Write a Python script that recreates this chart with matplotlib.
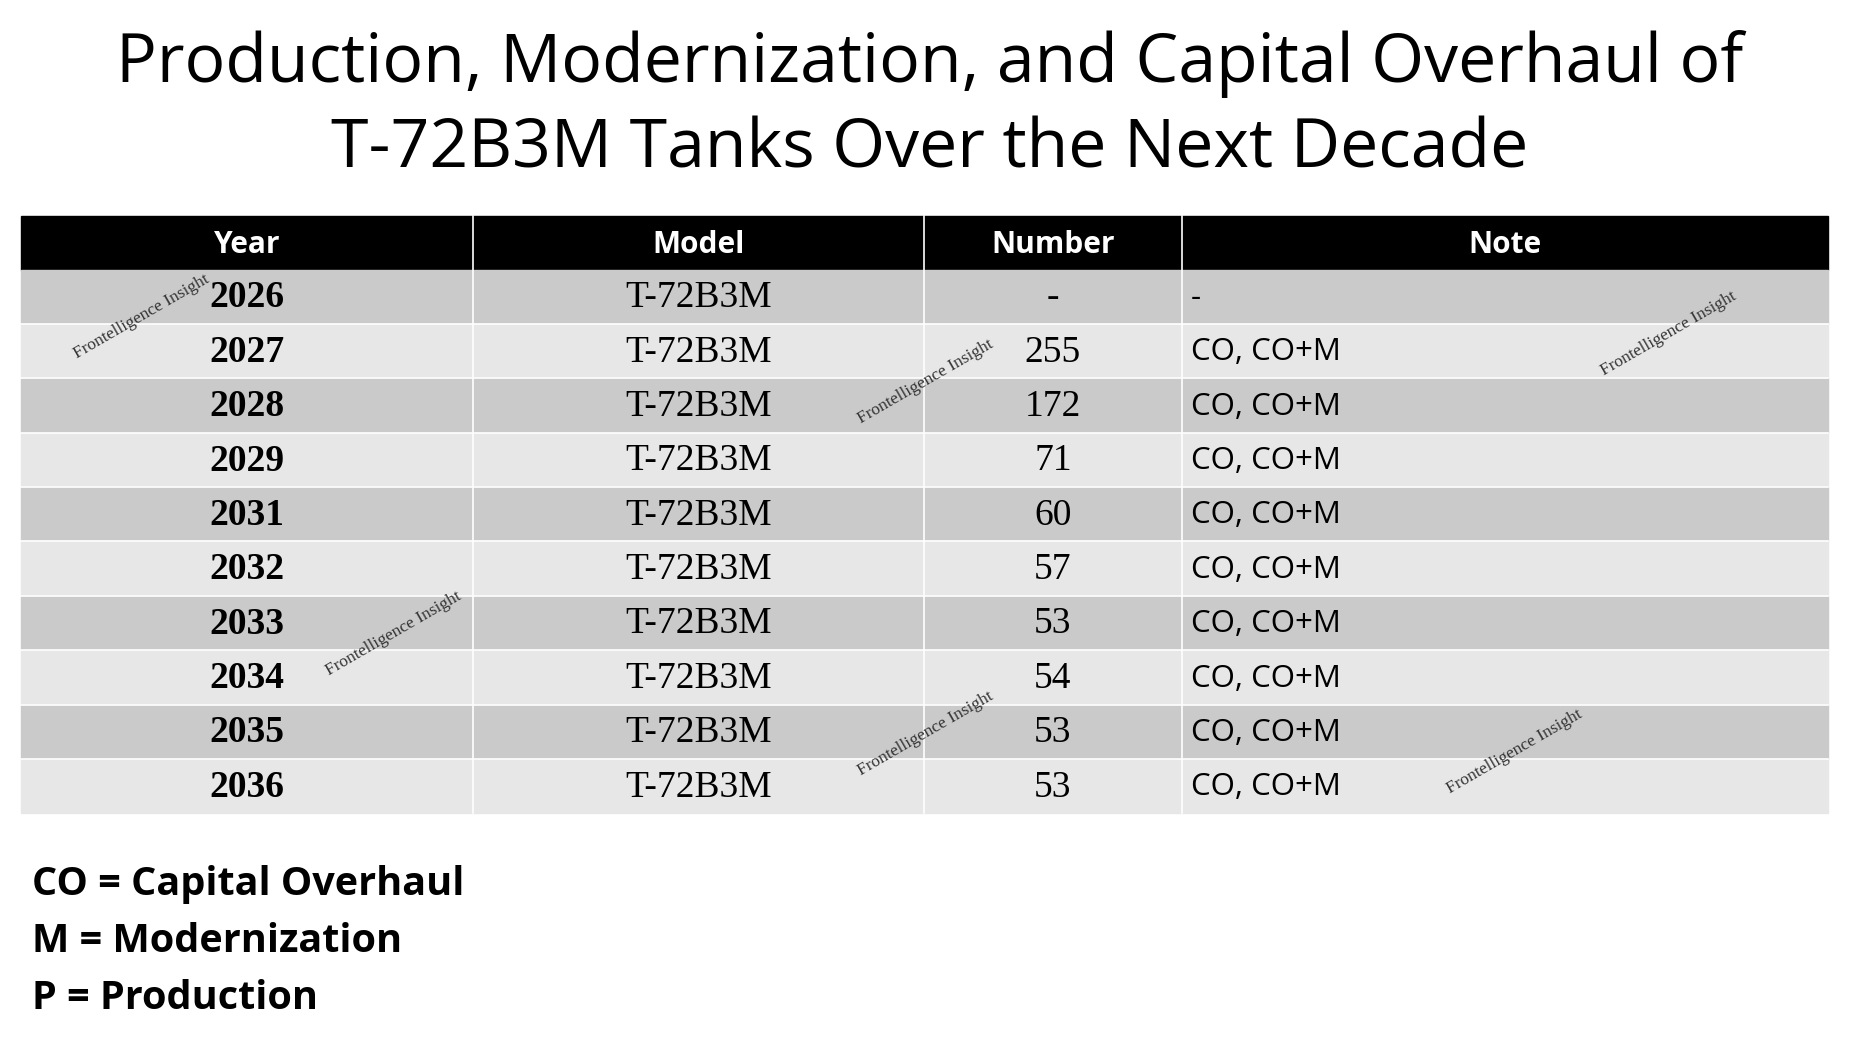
import matplotlib
matplotlib.use('Agg')
import matplotlib.pyplot as plt
from matplotlib.patches import Rectangle

title = 'Production, Modernization, and Capital Overhaul of\nT-72B3M Tanks Over the Next Decade'
headers = ['Year', 'Model', 'Number', 'Note']
years = ['2026', '2027', '2028', '2029', '2031', '2032', '2033', '2034', '2035', '2036']
models = ['T-72B3M'] * 10
numbers = ['-', '255', '172', '71', '60', '57', '53', '54', '53', '53']
notes = ['-'] + ['CO, CO+M'] * 9
legend_lines = ['CO = Capital Overhaul', 'M = Modernization', 'P = Production']
watermarks = [(120, 268), (1412, 282), (783, 323), (333, 536), (783, 621), (1282, 636)]

W, H = 1568, 884
fig = plt.figure(figsize=(18.53, 10.45), dpi=100)
ax = fig.add_axes([0, 0, 1, 1])
ax.set_xlim(0, W)
ax.set_ylim(H, 0)
ax.axis('off')

sans = 'Open Sans'
serif = 'Liberation Serif'

ax.text(787, 90, title, ha='center', va='center', fontsize=49, family=sans,
        linespacing=1.35)

left, right = 18, 1547
cols = [18, 400, 782, 1000, 1547]
top, head_h, row_h = 183, 45, 46.0

ax.add_patch(Rectangle((left, top), right - left, head_h, color='black', zorder=1))
for i, h in enumerate(headers):
    cx = (cols[i] + cols[i + 1]) / 2
    ax.text(cx, top + head_h / 2 + 2, h, ha='center', va='center', color='white',
            fontsize=21.5, fontweight='bold', family=sans, zorder=3)

y0 = top + head_h
for r in range(len(years)):
    y = y0 + r * row_h
    c = '#cacaca' if r % 2 == 0 else '#e7e7e7'
    ax.add_patch(Rectangle((left, y), right - left, row_h, color=c, zorder=1))
    cy = y + row_h / 2 + 1
    ax.text((cols[0] + cols[1]) / 2, cy, years[r], ha='center', va='center',
            fontsize=27, fontweight='bold', family=serif, zorder=3)
    ax.text((cols[1] + cols[2]) / 2, cy, models[r], ha='center', va='center',
            fontsize=27, family=serif, zorder=3)
    ax.text((cols[2] + cols[3]) / 2, cy, numbers[r], ha='center', va='center',
            fontsize=27, family=serif, zorder=3)
    ax.text(1008, cy, notes[r], ha='left', va='center',
            fontsize=22.5, family=sans, zorder=3)

for y in [y0 + r * row_h for r in range(1, len(years))]:
    ax.plot([left, right], [y, y], color='white', lw=1.2, zorder=2)
for x in cols[1:-1]:
    ax.plot([x, x], [top, y0 + len(years) * row_h], color='white', lw=1.2, zorder=2)

for x, y in watermarks:
    ax.text(x, y, 'Frontelligence Insight', ha='center', va='center', rotation=30,
            fontsize=12.5, family=serif, color='#333333', zorder=4)

for i, line in enumerate(legend_lines):
    ax.text(27, 748 + i * 48.5, line, ha='left', va='center', fontsize=28.5,
            fontweight='bold', family=sans)

fig.savefig('out.png', dpi=100)
